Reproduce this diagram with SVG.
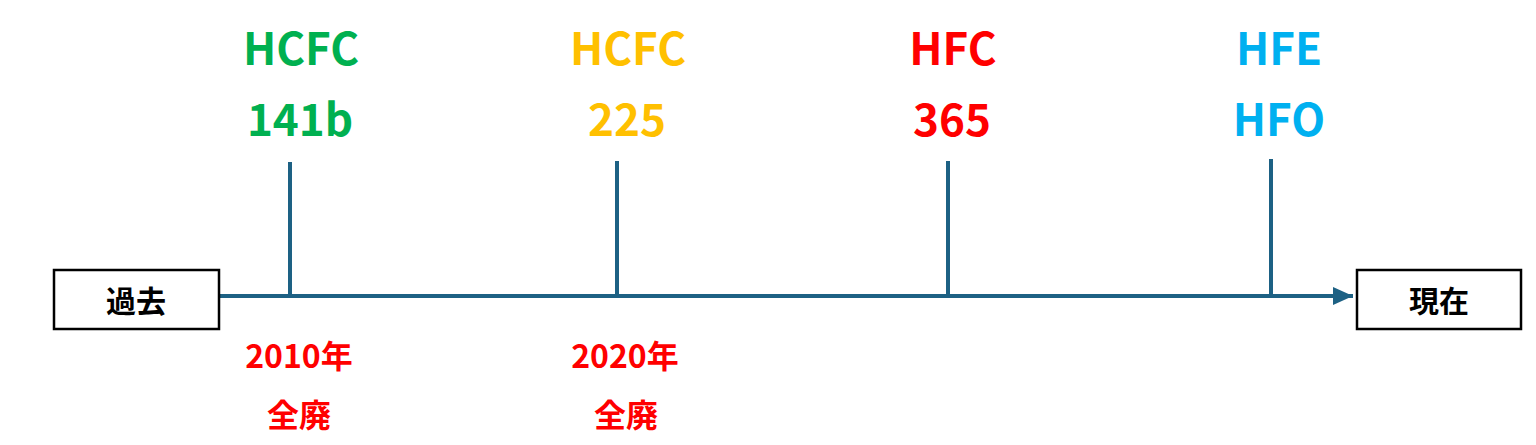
<svg xmlns="http://www.w3.org/2000/svg" width="1536" height="445" viewBox="0 0 1536 445">
<style>
text{font-family:"Noto Sans CJK JP","Noto Sans",sans-serif;font-weight:bold;text-anchor:middle}
.box{fill:#fff;stroke:#000;stroke-width:2.5}
.ln{stroke:#1D6184;stroke-width:4;fill:none}
.lbl{font-size:44px}
.yr{font-size:32px;fill:#FF0000}
.bt{font-size:30px;fill:#000}
</style>
<defs>
<marker id="ah" viewBox="0 0 20 18" refX="20" refY="9" markerWidth="20" markerHeight="18" markerUnits="userSpaceOnUse" orient="auto">
<path d="M0,0 L20,9 L0,18 Z" fill="#1D6184"/>
</marker>
</defs>
<g id="connectors">
<line class="ln" x1="219" y1="296" x2="1353" y2="296" marker-end="url(#ah)"/>
<line class="ln" x1="290" y1="162" x2="290" y2="296"/>
<line class="ln" x1="617" y1="161" x2="617" y2="296"/>
<line class="ln" x1="948" y1="161" x2="948" y2="296"/>
<line class="ln" x1="1271" y1="159" x2="1271" y2="296"/>
</g>
<g id="past">
<rect class="box" x="54" y="270" width="165" height="59"/>
<text class="bt" x="136" y="312">過去</text>
</g>
<g id="now">
<rect class="box" x="1357" y="270" width="164" height="59"/>
<text class="bt" x="1439" y="312">現在</text>
</g>
<g id="hcfc141b" fill="#00B050">
<text class="lbl" x="301" y="65">HCFC</text>
<text class="lbl" x="300" y="136">141b</text>
</g>
<g id="hcfc225" fill="#FFC000">
<text class="lbl" x="628" y="65">HCFC</text>
<text class="lbl" x="627" y="136">225</text>
</g>
<g id="hfc365" fill="#FF0000">
<text class="lbl" x="953" y="65">HFC</text>
<text class="lbl" x="952" y="136">365</text>
</g>
<g id="hfehfo" fill="#00B0F0">
<text class="lbl" x="1279" y="65">HFE</text>
<text class="lbl" x="1279" y="136">HFO</text>
</g>
<g id="y2010">
<text class="yr" x="299" y="368">2010年</text>
<text class="yr" x="299" y="427">全廃</text>
</g>
<g id="y2020">
<text class="yr" x="625" y="368">2020年</text>
<text class="yr" x="626" y="427">全廃</text>
</g>
</svg>
